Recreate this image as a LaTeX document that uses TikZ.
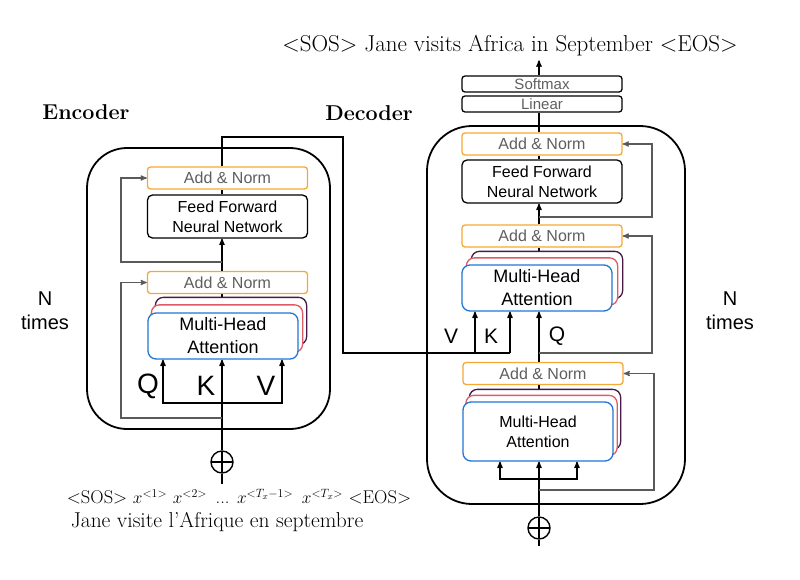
\documentclass[tikz,border=0pt]{standalone}
\usepackage{fontspec}
\newfontfamily\arial{Liberation Sans}
\usepackage{tikz}
\usetikzlibrary{arrows,backgrounds}
\usetikzlibrary{calc}
\definecolor{normorange}{RGB}{246,168,52}
\definecolor{headblue}{RGB}{33,118,214}
\definecolor{headred}{RGB}{222,90,100}
\definecolor{headdark}{RGB}{70,25,70}
\definecolor{resgray}{RGB}{90,90,90}
\definecolor{labelgray}{RGB}{95,95,95}
\tikzstyle{addnorm}=[rectangle,draw=normorange,rounded corners=3pt,line width=1.3pt,fill=white,minimum width=160pt,minimum height=22pt,inner sep=0pt,text=labelgray,font=\arial\fontsize{16}{19}\selectfont]
\tikzstyle{ffnet}=[rectangle,draw,rounded corners=5pt,line width=1.3pt,fill=white,minimum width=160pt,minimum height=43pt,inner sep=0pt,align=center,font=\arial\fontsize{16}{20}\selectfont]
\tikzstyle{mhead}=[rectangle,draw=headblue,rounded corners=8pt,line width=1.3pt,fill=white,minimum width=150pt,minimum height=46pt,inner sep=0pt,align=center,font=\arial\fontsize{18}{23}\selectfont]
\tikzstyle{outbox}=[rectangle,draw,rounded corners=3pt,line width=1.3pt,minimum width=160pt,minimum height=16pt,inner sep=0pt,text=labelgray,font=\arial\fontsize{15}{16}\selectfont]
\tikzstyle{stack}=[rounded corners=8pt,line width=1.3pt,fill=white]
\tikzstyle{res}=[draw=resgray,line width=1.2pt]
\tikzstyle{plusnode}=[circle,draw,line width=1.4pt,minimum size=22pt,inner sep=0pt,fill=white,
	path picture={\draw[line width=1.6pt] (path picture bounding box.north) -- (path picture bounding box.south) (path picture bounding box.west) -- (path picture bounding box.east);}]
\newcommand{\headstack}[5]{
	\begin{scope}[on background layer]
	\draw[line width=1.3pt] (#1.north -| #5) -- (#4.south -| #5);
	\draw[stack, draw=headdark] ($(#1.south west)+(2*#2,-2*#3)$) rectangle ($(#1.north east)+(2*#2,-2*#3)$);
	\draw[stack, draw=headred] ($(#1.south west)+(#2,-#3)$) rectangle ($(#1.north east)+(#2,-#3)$);
	\end{scope}
}

\begin{document}
\begin{tikzpicture}[x=1pt,y=-1pt,line width=1.3pt,>=stealth']
	\useasboundingbox (0,0) rectangle (800,579);
	\node[font=\bfseries\fontsize{21.5}{24}\selectfont] (enctitle) at (86,112) {Encoder};
	\node[font=\bfseries\fontsize{21.5}{24}\selectfont] (dectitle) at (369,113) {Decoder};
	\node[font=\fontsize{23}{26}\selectfont] (outseq) at (510,46) {<SOS> Jane visits Africa in September <EOS>};
	\node[font=\fontsize{18.5}{22}\selectfont] (inseq) at (239,497) {<SOS> $x^{<1>}$ $x^{<2>}$ \,... $x^{<T_x-1>}$ \,$x^{<T_x>}$ <EOS>};
	\node[font=\fontsize{21.5}{24}\selectfont] (frseq) at (217,522) {Jane visite l'Afrique en septembre};
	\node[font=\arial\fontsize{20}{24}\selectfont,align=center] (encn) at (45,311) {N\\times};
	\node[font=\arial\fontsize{20}{24}\selectfont,align=center] (decn) at (730,311) {N\\times};

	\draw[line width=1.8pt, rounded corners=40pt] (87,148) rectangle (330,429);
	\draw[line width=1.8pt, rounded corners=45pt] (427,126) rectangle (685,504);

	\node[addnorm] (ean1) at (227.5,178) {Add \& Norm};
	\node[ffnet] (eff) at (227.5,216.5) {Feed Forward\\Neural Network};
	\node[addnorm] (ean2) at (227.5,282.5) {Add \& Norm};
	\node[mhead] (emha) at (223,336) {Multi-Head\\Attention};
	\node[plusnode] (eplus) at (222,462) {};
	\coordinate (ein) at (222,484);
	\headstack{emha}{4}{7.5}{ean2}{eplus}

	\node[outbox] (softmax) at (542,84) {Softmax};
	\node[outbox] (linear) at (542,104) {Linear};
	\node[addnorm] (dan3) at (542,144) {Add \& Norm};
	\node[ffnet] (dffn) at (542,181.5) {Feed Forward\\Neural Network};
	\node[addnorm] (dan2) at (542,236) {Add \& Norm};
	\node[mhead] (dmha2) at (537,288) {Multi-Head\\Attention};
	\node[addnorm] (dan1) at (543,373.5) {Add \& Norm};
	\node[mhead, minimum height=59pt, font=\arial\fontsize{16}{20}\selectfont] (dmha1) at (538,431.5) {Multi-Head\\Attention};
	\node[plusnode] (dplus) at (539,528) {};
	\coordinate (din) at (539,546);
	\headstack{dmha2}{5}{6.5}{dan2}{dplus}
	\headstack{dmha1}{3.5}{6}{dan1}{dplus}

	\node[font=\arial\fontsize{28}{30}\selectfont] (eqlab) at (148,386) {Q};
	\node[font=\arial\fontsize{28}{30}\selectfont] (eklab) at (206,386) {K};
	\node[font=\arial\fontsize{28}{30}\selectfont] (evlab) at (266,386) {V};
	\node[font=\arial\fontsize{21}{24}\selectfont] (dvlab) at (451,336) {V};
	\node[font=\arial\fontsize{21}{24}\selectfont] (dklab) at (491,336) {K};
	\node[font=\arial\fontsize{21}{24}\selectfont] (dqlab) at (557,336) {Q};

	\coordinate (eq) at (163,403);
	\coordinate (ev) at (282,403);
	\coordinate (er1) at (121,418);
	\coordinate (er2) at (121,262);
	\coordinate (ctxtop) at (343,137);
	\coordinate (dv) at (475,353);
	\coordinate (dk) at (510,353);
	\coordinate (dq1) at (500,479);
	\coordinate (dq2) at (577,479);
	\coordinate (dr1) at (654,490);
	\coordinate (dr2) at (652,353);
	\coordinate (dr3) at (652,217);

	\draw (ein) -- (eplus);
	\draw[->] (eplus) -- (emha.south -| eplus);
	\draw[<->] (eq |- emha.south) -- (eq) -- (ev) -- (ev |- emha.south);
	\draw[->] (ean2.north -| eplus) -- (eff.south -| eplus);
	\draw (eff.north -| eplus) -- (ean1.south -| eplus);
	\draw[res,->] (er1 -| eplus) -- (er1) |- (ean2.west);
	\draw[res,->] (er2 -| eplus) -- (er2) |- (ean1.west);
	\draw (ean1.north -| eplus) |- (ctxtop) |- (dk);
	\draw[->] (dk) -- (dk |- dmha2.south);
	\draw[->] (dv) -- (dv |- dmha2.south);

	\draw (din) -- (dplus);
	\draw[->] (dplus) -- (dmha1.south -| dplus);
	\draw[<->] (dq1 |- dmha1.south) -- (dq1) -- (dq2) -- (dq2 |- dmha1.south);
	\draw[res,->] (dr1 -| dplus) -- (dr1) |- (dan1.east);
	\draw[->] (dan1.north -| dplus) -- (dmha2.south -| dplus);
	\draw[res,->] (dr2 -| dplus) -- (dr2) |- (dan2.east);
	\draw[->] (dan2.north -| dplus) -- (dffn.south -| dplus);
	\draw (dffn.north -| dplus) -- (dan3.south -| dplus);
	\draw[res,->] (dr3 -| dplus) -- (dr3) |- (dan3.east);
	\draw (dan3.north -| dplus) -- (linear.south -| dplus);
	\draw[->] (softmax.north -| dplus) -- (outseq.south -| dplus);
\end{tikzpicture}
\end{document}
